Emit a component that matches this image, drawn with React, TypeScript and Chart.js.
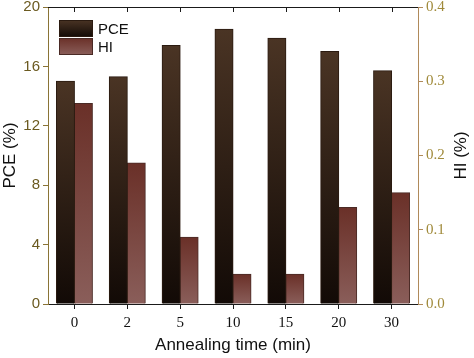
import React, { useEffect, useRef } from "react";
import { Chart, registerables } from "chart.js";
Chart.register(...registerables);

const categories = ["0", "2", "5", "10", "15", "20", "30"];
const pceValues = [15.0, 15.3, 17.4, 18.5, 17.9, 17.0, 15.7];
const hiValues = [0.27, 0.19, 0.09, 0.04, 0.04, 0.13, 0.15];
const pceTicks = [0, 4, 8, 12, 16, 20];
const hiTicks = [0.0, 0.1, 0.2, 0.3, 0.4];

function barGradient(axisId: string, top: string, bottom: string) {
  return (ctx: any) => {
    const chart = ctx.chart;
    const scale = chart.scales[axisId];
    const v = ctx.raw;
    if (!scale || v == null) return bottom;
    const y0 = scale.getPixelForValue(v);
    const y1 = scale.getPixelForValue(0);
    if (!isFinite(y0) || !isFinite(y1) || y0 === y1) return bottom;
    const g = chart.ctx.createLinearGradient(0, y0, 0, y1);
    g.addColorStop(0, top);
    g.addColorStop(1, bottom);
    return g;
  };
}

const framePlugin = {
  id: "frame",
  afterDraw(chart: any) {
    const { ctx, chartArea } = chart;
    const { left, right, top, bottom } = chartArea;
    const x = chart.scales.x;
    ctx.save();
    // top border with inward ticks
    ctx.strokeStyle = "#1a1a1a";
    ctx.lineWidth = 1;
    ctx.beginPath();
    ctx.moveTo(left, top + 0.5);
    ctx.lineTo(right, top + 0.5);
    for (let i = 0; i < categories.length; i++) {
      const px = Math.round(x.getPixelForValue(i)) + 0.5;
      ctx.moveTo(px, top);
      ctx.lineTo(px, top + 5);
    }
    ctx.stroke();
    // right axis title, reading bottom-to-top
    ctx.save();
    ctx.translate(461, (top + bottom) / 2);
    ctx.rotate(-Math.PI / 2);
    ctx.font = "17px 'Liberation Sans', Arial, sans-serif";
    ctx.fillStyle = "#111";
    ctx.textAlign = "center";
    ctx.textBaseline = "middle";
    ctx.fillText("HI (%)", 0, 0);
    ctx.restore();
    // legend
    const items = [
      { label: "PCE", top: "#4a3424", bottom: "#120a06", border: "#2a1a10" },
      { label: "HI", top: "#6a3028", bottom: "#8a5e5a", border: "#4a2a25" },
    ];
    const lx = 59, bw = 34, bh = 17;
    const ys = [20, 38];
    ctx.font = "15px 'Liberation Sans', Arial, sans-serif";
    ctx.textBaseline = "middle";
    ctx.textAlign = "left";
    items.forEach((it, i) => {
      const y = ys[i];
      const g = ctx.createLinearGradient(0, y, 0, y + bh);
      g.addColorStop(0, it.top);
      g.addColorStop(1, it.bottom);
      ctx.fillStyle = g;
      ctx.fillRect(lx, y, bw, bh);
      ctx.strokeStyle = it.border;
      ctx.strokeRect(lx + 0.5, y + 0.5, bw - 1, bh - 1);
      ctx.fillStyle = "#111";
      ctx.fillText(it.label, lx + bw + 5, y + bh / 2 + 1);
    });
    ctx.restore();
  },
};

export default function App() {
  const ref = useRef<HTMLCanvasElement | null>(null);
  useEffect(() => {
    document.body.style.margin = "0";
    const chart = new Chart(ref.current!, {
      type: "bar",
      data: {
        labels: categories,
        datasets: [
          {
            label: "PCE",
            data: pceValues,
            yAxisID: "y",
            backgroundColor: barGradient("y", "#4a3424", "#120a06"),
            borderColor: "#2a1a10",
            borderWidth: 1,
            inflateAmount: 0.5,
            categoryPercentage: 0.68,
            barPercentage: 1,
          },
          {
            label: "HI",
            data: hiValues,
            yAxisID: "y1",
            backgroundColor: barGradient("y1", "#6a3028", "#8a5e5a"),
            borderColor: "#4a2a25",
            borderWidth: 1,
            inflateAmount: 0.5,
            categoryPercentage: 0.68,
            barPercentage: 1,
          },
        ],
      },
      options: {
        animation: false,
        responsive: false,
        maintainAspectRatio: false,
        layout: { padding: { top: 7, left: 0, right: 0, bottom: 0 } },
        plugins: { legend: { display: false }, tooltip: { enabled: false } },
        scales: {
          x: {
            position: "bottom",
            grid: {
              display: true,
              drawOnChartArea: false,
              offset: false,
              tickLength: 5,
              color: "#1a1a1a",
            },
            border: { display: true, color: "#1a1a1a", width: 1 },
            ticks: {
              color: "#111",
              padding: 5,
              font: { family: "'Liberation Serif', 'Times New Roman', serif", size: 15 },
            },
            title: {
              display: true,
              text: "Annealing time (min)",
              color: "#111",
              padding: { top: 0, bottom: 2 },
              font: { family: "'Liberation Sans', Arial, sans-serif", size: 17 },
            },
            afterFit: (s: any) => { s.height = 54; s.paddingLeft = 0; s.paddingRight = 0; },
          },
          y: {
            position: "left",
            min: 0,
            max: 20,
            afterBuildTicks: (s: any) => { s.ticks = pceTicks.map((v) => ({ value: v })); },
            grid: { display: true, drawOnChartArea: false, tickLength: 5, color: "#8a7436" },
            border: { display: true, color: "#8a7436", width: 1 },
            ticks: {
              color: "#6b5a20",
              padding: 3,
              font: { family: "'Liberation Sans', Arial, sans-serif", size: 15 },
            },
            title: {
              display: true,
              text: "PCE (%)",
              color: "#111",
              padding: { top: 0, bottom: 2 },
              font: { family: "'Liberation Sans', Arial, sans-serif", size: 17 },
            },
            afterFit: (s: any) => { s.width = 48; s.paddingTop = 0; s.paddingBottom = 0; },
          },
          y1: {
            position: "right",
            min: 0,
            max: 0.4,
            afterBuildTicks: (s: any) => { s.ticks = hiTicks.map((v) => ({ value: v })); },
            grid: { display: true, drawOnChartArea: false, tickLength: 5, color: "#b08a5a" },
            border: { display: true, color: "#b08a5a", width: 1 },
            ticks: {
              color: "#a08a3a",
              padding: 3,
              callback: (v: any) => Number(v).toFixed(1),
              font: { family: "'Liberation Serif', 'Times New Roman', serif", size: 15 },
            },
            title: { display: false },
            afterFit: (s: any) => { s.width = 56; s.paddingTop = 0; s.paddingBottom = 0; },
          },
        },
      },
      plugins: [framePlugin],
    } as any);
    return () => chart.destroy();
  }, []);
  return (
    <div style={{ width: 474, height: 358 }}>
      <canvas ref={ref} width={474} height={358} style={{ display: "block" }} />
    </div>
  );
}
